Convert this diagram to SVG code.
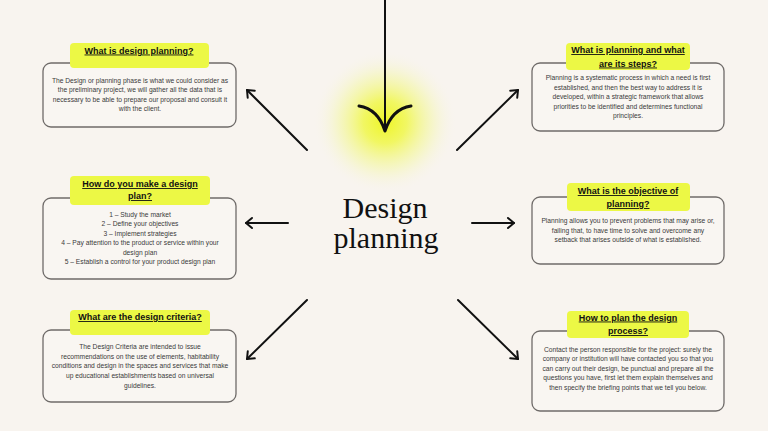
<svg xmlns="http://www.w3.org/2000/svg" width="768" height="431" viewBox="0 0 768 431">
<defs>
<radialGradient id="glow" cx="0.5" cy="0.5" r="0.5">
<stop offset="0" stop-color="#eef526" stop-opacity="1"/>
<stop offset="0.3" stop-color="#f0f74a" stop-opacity="0.85"/>
<stop offset="0.65" stop-color="#f3f7a0" stop-opacity="0.5"/>
<stop offset="1" stop-color="#f8f4ef" stop-opacity="0"/>
</radialGradient>
<marker id="chev" markerUnits="userSpaceOnUse" markerWidth="14" markerHeight="14" refX="9" refY="7" orient="auto">
<path d="M3,2 L9,7 L3,12" fill="none" stroke="#111" stroke-width="2" stroke-linecap="round" stroke-linejoin="round"/>
</marker>
<style>
.box{fill:#f9f6f2;stroke:#6f6b69;stroke-width:1.3}
.lab{fill:#ecf845}
.h{font-family:"Liberation Sans",Arial,sans-serif;font-weight:bold;font-size:9px;fill:#111;text-anchor:middle;text-decoration:underline}
.b{font-family:"Liberation Sans",Arial,sans-serif;font-size:6.7px;fill:#3a3a3a;text-anchor:middle}
.c{stroke:#111;stroke-width:2;fill:none;stroke-linecap:round}
.t{font-family:"Liberation Serif","Times New Roman",serif;font-size:30px;fill:#111;text-anchor:middle}
</style>
</defs>
<rect width="768" height="431" fill="#f8f4ef"/>
<circle cx="385" cy="122" r="72" fill="url(#glow)"/>

<g id="center">
<text class="t" x="385" y="218">Design</text>
<text class="t" x="386" y="248">planning</text>
</g>

<g id="connectors">
<line class="c" x1="385" y1="0" x2="385" y2="130"/>
<path d="M359,106 Q378,109 385,131 Q392,109 411,106" fill="none" stroke="#111" stroke-width="3" stroke-linecap="round" stroke-linejoin="round"/>
<line class="c" x1="307" y1="150" x2="247" y2="90" marker-end="url(#chev)"/>
<line class="c" x1="457" y1="150" x2="518" y2="90" marker-end="url(#chev)"/>
<line class="c" x1="288" y1="223" x2="246" y2="223" marker-end="url(#chev)"/>
<line class="c" x1="472" y1="223" x2="514" y2="223" marker-end="url(#chev)"/>
<line class="c" x1="307" y1="300" x2="247" y2="359" marker-end="url(#chev)"/>
<line class="c" x1="458" y1="300" x2="518" y2="359" marker-end="url(#chev)"/>
</g>

<g id="node-what-is-design-planning">
<rect class="box" x="43" y="63" width="193" height="64" rx="8"/>
<rect class="lab" x="70" y="43" width="139" height="25" rx="4"/>
<text class="h" x="139" y="53.5">What is design planning?</text>
<text class="b" x="140" y="82.5">The Design or planning phase is what we could consider as</text>
<text class="b" x="140" y="92">the preliminary project, we will gather all the data that is</text>
<text class="b" x="140" y="101.5">necessary to be able to prepare our proposal and consult it</text>
<text class="b" x="140" y="111">with the client.</text>
</g>

<g id="node-planning-steps">
<rect class="box" x="532" y="63" width="192" height="68" rx="8"/>
<rect class="lab" x="566" y="43" width="124" height="27" rx="4"/>
<text class="h" x="628" y="53">What is planning and what</text>
<text class="h" x="628" y="66.5">are its steps?</text>
<text class="b" x="628" y="80">Planning is a systematic process in which a need is first</text>
<text class="b" x="628" y="89.5">established, and then the best way to address it is</text>
<text class="b" x="628" y="99">developed, within a strategic framework that allows</text>
<text class="b" x="628" y="108.5">priorities to be identified and determines functional</text>
<text class="b" x="628" y="118">principles.</text>
</g>

<g id="node-make-design-plan">
<rect class="box" x="43" y="198" width="193" height="81" rx="8"/>
<rect class="lab" x="70" y="176" width="140" height="29" rx="4"/>
<text class="h" x="140" y="187">How do you make a design</text>
<text class="h" x="140" y="199">plan?</text>
<text class="b" x="140" y="216.5">1 – Study the market</text>
<text class="b" x="140" y="226">2 – Define your objectives</text>
<text class="b" x="140" y="235.5">3 – Implement strategies</text>
<text class="b" x="140" y="245">4 – Pay attention to the product or service within your</text>
<text class="b" x="140" y="254.5">design plan</text>
<text class="b" x="140" y="264">5 – Establish a control for your product design plan</text>
</g>

<g id="node-objective">
<rect class="box" x="532" y="197" width="192" height="67" rx="8"/>
<rect class="lab" x="567" y="183" width="123" height="28" rx="4"/>
<text class="h" x="628" y="194">What is the objective of</text>
<text class="h" x="628" y="207">planning?</text>
<text class="b" x="628" y="223">Planning allows you to prevent problems that may arise or,</text>
<text class="b" x="628" y="232.5">failing that, to have time to solve and overcome any</text>
<text class="b" x="628" y="242">setback that arises outside of what is established.</text>
</g>

<g id="node-design-criteria">
<rect class="box" x="43" y="330" width="193" height="72" rx="8"/>
<rect class="lab" x="70" y="310" width="140" height="25" rx="4"/>
<text class="h" x="140" y="320">What are the design criteria?</text>
<text class="b" x="140" y="349">The Design Criteria are intended to issue</text>
<text class="b" x="140" y="358.5">recommendations on the use of elements, habitability</text>
<text class="b" x="140" y="368">conditions and design in the spaces and services that make</text>
<text class="b" x="140" y="378">up educational establishments based on universal</text>
<text class="b" x="140" y="388">guidelines.</text>
</g>

<g id="node-plan-design-process">
<rect class="box" x="532" y="331" width="192" height="80" rx="8"/>
<rect class="lab" x="567" y="311" width="122" height="27" rx="4"/>
<text class="h" x="628" y="320.5">How to plan the design</text>
<text class="h" x="628" y="334">process?</text>
<text class="b" x="628" y="351.5">Contact the person responsible for the project: surely the</text>
<text class="b" x="628" y="361">company or institution will have contacted you so that you</text>
<text class="b" x="628" y="370.5">can carry out their design, be punctual and prepare all the</text>
<text class="b" x="628" y="380">questions you have, first let them explain themselves and</text>
<text class="b" x="628" y="389.5">then specify the briefing points that we tell you below.</text>
</g>
</svg>
